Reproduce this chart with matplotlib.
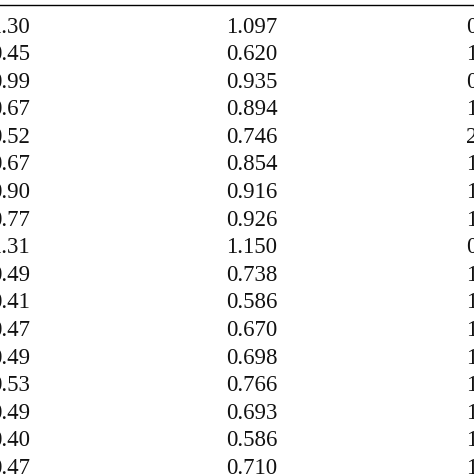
import matplotlib.pyplot as plt

# table values, columns partially cut off at the figure edges
col_left = ["1.30", "0.45", "0.99", "0.67", "0.52", "0.67", "0.90", "0.77", "1.31",
            "0.49", "0.41", "0.47", "0.49", "0.53", "0.49", "0.40", "0.47"]
col_mid = ["1.097", "0.620", "0.935", "0.894", "0.746", "0.854", "0.916", "0.926", "1.150",
           "0.738", "0.586", "0.670", "0.698", "0.766", "0.693", "0.586", "0.710"]
col_right = ["0", "1", "0", "1", "2", "1", "1", "1", "0",
             "1", "1", "1", "1", "1", "1", "1", "1"]

W = H = 474
fig = plt.figure(figsize=(4.74, 4.74), dpi=100)
ax = fig.add_axes([0, 0, 1, 1])
ax.set_xlim(0, W)
ax.set_ylim(H, 0)
ax.axis("off")

ax.plot([0, W], [5, 5], color="black", lw=1.0)

font = dict(family="Liberation Serif", fontsize=16.5, color="#111111", va="center")
y0, dy = 27, 27.6
for i in range(len(col_mid)):
    y = y0 + i * dy
    ax.text(30, y, col_left[i], ha="right", **font)
    ax.text(252, y, col_mid[i], ha="center", **font)
    ax.text(466, y, col_right[i], ha="left", **font)

fig.savefig("out.png", dpi=100)
